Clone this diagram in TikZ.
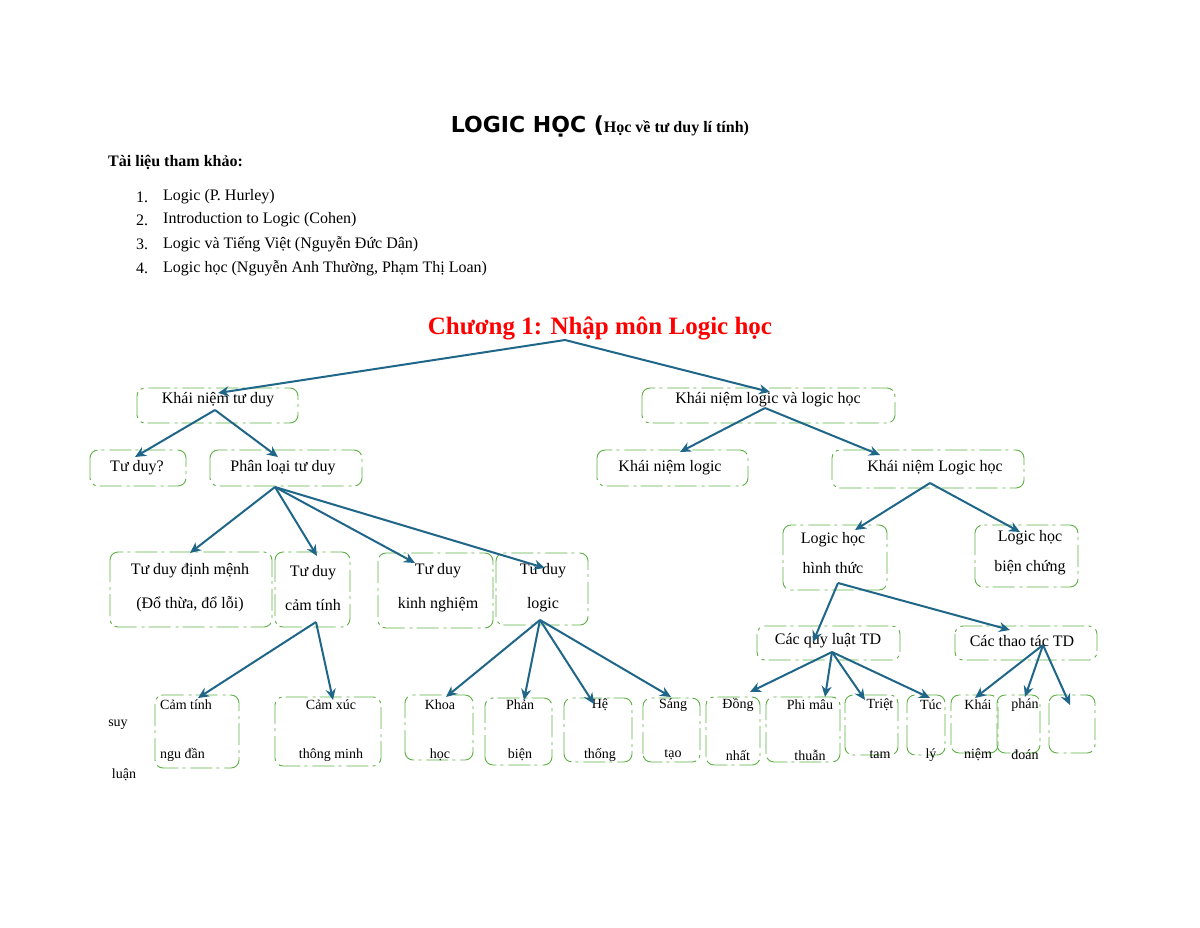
\documentclass[tikz,border=0pt]{standalone}
\usepackage{fontspec}
\setmainfont{Liberation Serif}
\newfontfamily\hsans{DejaVu Sans}
\usetikzlibrary{arrows.meta}
\definecolor{arr}{HTML}{1F6688}
\definecolor{gbox}{HTML}{5DB043}
\tikzset{
 bx/.style={draw=gbox,line width=0.9pt,dash pattern=on 22pt off 5pt on 3pt off 4pt,rounded corners=8pt},
 ar/.style={draw=arr,line width=2pt,-{Stealth[length=11pt,width=10pt]}},
 t/.style={font=\fontsize{16}{18}\selectfont,inner sep=0pt},
 ts/.style={font=\fontsize{14}{16}\selectfont,inner sep=0pt},
}
\begin{document}
\begin{tikzpicture}[x=1pt,y=-1pt]
\useasboundingbox[fill=white] (0,0) rectangle (1200,927);
% header
\node[inner sep=0pt] (title) at (600,126) {{\hsans\bfseries\fontsize{22}{24}\selectfont LOGIC HỌC (}{\bfseries\fontsize{16}{18}\selectfont Học về tư duy lí tính)}};
\node[t,anchor=west,font=\bfseries\fontsize{16}{18}\selectfont] (ref) at (108,162) {Tài liệu tham khảo:};
\foreach \i/\s/\yy in {1/{Logic (P. Hurley)}/197,2/{Introduction to Logic (Cohen)}/220,3/{Logic và Tiếng Việt (Nguyễn Đức Dân)}/244,4/{Logic học (Nguyễn Anh Thường, Phạm Thị Loan)}/268}{
 \node[t,anchor=west] (n\i) at (136,\yy) {\i.};
 \node[t,anchor=west] (l\i) at (163,\yy) {\s};
}
\node[inner sep=0pt,text=red,font=\bfseries\fontsize{25}{27}\selectfont] (ch) at (600,328) {Chương 1: Nhập môn Logic học};
% boxes
\draw[bx] (137,388) rectangle (298,423); \node[t] (a1) at (218,400) {Khái niệm tư duy};
\draw[bx] (642,388) rectangle (895,423); \node[t] (a2) at (768,400) {Khái niệm logic và logic học};
\draw[bx] (90,450) rectangle (186,486); \node[t] (b1) at (137,468) {Tư duy?};
\draw[bx] (210,450) rectangle (362,486); \node[t] (b2) at (283,468) {Phân loại tư duy};
\draw[bx] (597,450) rectangle (748,486); \node[t] (b3) at (670,468) {Khái niệm logic};
\draw[bx] (832,450) rectangle (1024,488); \node[t] (b4) at (935,468) {Khái niệm Logic học};
\draw[bx] (110,552) rectangle (272,627); \node[t,align=center] (c1) at (190,588) {Tư duy định mệnh\\[16pt](Đổ thừa, đổ lỗi)};
\draw[bx] (275,552) rectangle (350,627); \node[t,align=center] (c2) at (313,588) {Tư duy\\[16pt]cảm tính};
\draw[bx] (378,553) rectangle (493,628); \node[t,align=center] (c3) at (438,588) {Tư duy\\[16pt]kinh nghiệm};
\draw[bx] (496,553) rectangle (588,625); \node[t,align=center] (c4) at (543,588) {Tư duy\\[16pt]logic};
\draw[bx] (783,525) rectangle (887,590); \node[t,align=center] (d1) at (833,553) {Logic học\\[12pt]hình thức};
\draw[bx] (975,525) rectangle (1078,587); \node[t,align=center] (d2) at (1030,553) {Logic học\\[12pt]biện chứng};
\draw[bx] (757,626) rectangle (900,660); \node[t] (e1) at (828,641) {Các quy luật TD};
\draw[bx] (955,626) rectangle (1097,660); \node[t] (e2) at (1022,641) {Các thao tác TD};
% bottom
\foreach \nm/\xa/\ya/\xb/\yb/\cx/\la/\lb in {
 f2/275/697/381/766/331/{Cảm xúc}/{thông minh},
 f3/405/695/473/760/440/{Khoa}/{học},
 f4/485/698/552/765/520/{Phản}/{biện},
 f5/564/698/632/762/600/{Hệ}/{thống},
 f6/643/698/700/762/673/{Sáng}/{tạo},
 f7/706/697/760/765/738/{Đồng}/{nhất},
 f8/766/697/840/762/810/{Phi mâu}/{thuẫn},
 f9/845/695/898/755/880/{Triệt}/{tam},
 f10/907/695/945/755/931/{Túc}/{lý},
 f11/951/695/998/753/978/{Khái}/{niệm},
 f12/997/695/1040/753/1025/{phán}/{đoán}}{
 \draw[bx] (\xa,\yb) rectangle (\xb,\ya);
 \node[ts] (\nm a) at (\cx,705) {\la};
 \node[ts] (\nm b) at (\cx,755) {\lb};
}
\draw[bx] (155,768) rectangle (239,695);
\node[ts,anchor=west] (f1a) at (160,705) {Cảm tính};
\node[ts,anchor=west] (f1b) at (160,755) {ngu đần};
\draw[bx] (1049,695) rectangle (1095,753);
\node[ts] (suy) at (118,725) {suy};
\node[ts] (luan) at (124,775) {luận};
% arrows
\foreach \xa/\ya/\xb/\yb in {565/340/218/393, 565/340/770/392,
 215/410/135/457, 215/410/278/457,
 765/408/680/452, 765/408/880/455,
 275/487/190/553, 275/487/317/556, 275/487/415/563, 275/487/545/568,
 930/483/855/530, 930/483/1020/532,
 838/583/813/642, 838/583/1010/630,
 316/622/198/698, 316/622/333/700,
 540/620/446/697, 540/620/524/700, 540/620/594/704, 540/620/671/697,
 832/652/750/692, 832/652/825/697, 832/652/865/700, 832/652/930/698,
 1043/645/975/698, 1043/645/1025/697, 1043/645/1070/705}{
 \coordinate (s) at (\xa,\ya); \coordinate (e) at (\xb,\yb);
 \draw[ar] (s) -- (e);
}
\end{tikzpicture}
\end{document}
